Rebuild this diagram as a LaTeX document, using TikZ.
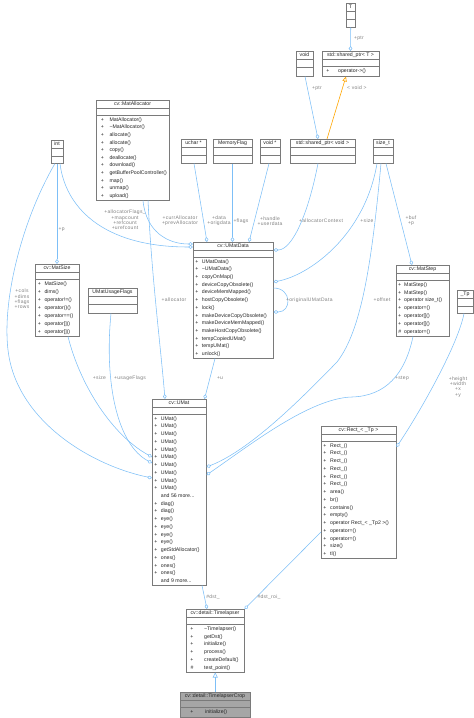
\documentclass[tikz,border=0pt]{standalone}
\usepackage{fontspec}
\setmainfont{Liberation Sans}
\newfontfamily\labfont[LetterSpace=6]{Liberation Sans}
\usetikzlibrary{arrows.meta}
\definecolor{edgeblue}{HTML}{7DBFF7}
\definecolor{boxgrey}{HTML}{7A7A7A}
\definecolor{labgrey}{HTML}{808080}
\definecolor{tmplorange}{HTML}{FFA500}
\definecolor{cropfill}{HTML}{A6A6A6}

\newcommand{\typebox}[6]{%
  \node[cls, minimum width={#4-#2}, minimum height={#5-#3}, anchor=north west] (#1) at (#2,#3) {};
  \node[ttl] at ({(#2+#4)/2},#3+4.2) {#6};
  \draw[sep] (#2,#3+8) -- (#4,#3+8);
  \draw[sep] (#2,#3+16) -- (#4,#3+16);
}
\newcommand{\classbox}[9]{%
  \node[cls, minimum width={#4-#2}, minimum height={#5-#3}, anchor=north west] (#1) at (#2,#3) {};
  \node[ttl] at ({(#2+#4)/2},#3+4.4) {#8};
  \draw[sep] (#2,#3+8.5) -- (#4,#3+8.5);
  \draw[sep] (#2,#3+15.5) -- (#4,#3+15.5);
  \foreach \v/\t [count=\n] in {#9} {\xdef\nmem{\n}}
  \pgfmathsetmacro\mstep{(#5-#3-16)/\nmem}
  \foreach \v/\t [count=\i] in {#9} {
    \pgfmathsetmacro\my{#3+16+(\i-0.5)*\mstep}
    \node[mem, anchor=center] at (#2+#6,\my) {\v};
    \node[mem] at (#2+#7,\my) {\t};
  }
}

\begin{document}
\begin{tikzpicture}[x=1pt,y=-1pt,
  cls/.style={draw=boxgrey, line width=0.5pt, inner sep=0pt, rectangle},
  sep/.style={draw=boxgrey, line width=0.5pt},
  ttl/.style={font=\fontsize{5.2}{6}\selectfont, text=black!85, inner sep=0pt, text height=3.8pt, text depth=1.1pt},
  mem/.style={font=\fontsize{5.2}{6}\selectfont, text=black!85, inner sep=0pt, anchor=west, text height=3.8pt, text depth=1.1pt},
  uses/.style={draw=edgeblue, line width=0.55pt, -{Diamond[open,length=5pt,width=3.6pt]}},
  inh/.style={draw=edgeblue, line width=0.55pt, -{Triangle[open,length=5pt,width=5pt]}},
  tmpl/.style={draw=tmplorange, line width=0.6pt, -{Triangle[open,length=5pt,width=4.5pt]}},
  lab/.style={font=\labfont\fontsize{5}{5.2}\selectfont, text=labgrey, align=center, inner sep=0pt}
]
\useasboundingbox (0,0) rectangle (474,718);

% ---------- simple type boxes ----------
\typebox{tT}{346}{3}{355}{27}{T}
\typebox{tvoid}{296}{51}{313}{76}{void}
\typebox{tint}{51}{140}{63}{163}{int}
\typebox{tuchar}{181}{139}{206}{163}{uchar *}
\typebox{tmemflag}{213}{139}{252}{163}{MemoryFlag}
\typebox{tvoidp}{260}{139}{280}{163}{void *}
\typebox{tsptrvoid}{290}{139}{355}{163}{std::shared\_ptr< void >}
\typebox{tsizet}{373}{139}{393}{163}{size\_t}
\typebox{tusage}{88}{288}{137}{313}{UMatUsageFlags}
\typebox{ttp}{457}{290}{473}{313}{\_Tp}

% ---------- class boxes ----------
\classbox{csptrT}{322}{51}{379}{76}{6}{16}{std::shared\_ptr< T >}{+/{operator->()}}
\classbox{cmatalloc}{96}{100}{169}{200}{6.5}{13.3}{cv::MatAllocator}{+/{MatAllocator()},+/{\textasciitilde MatAllocator()},+/{allocate()},+/{allocate()},+/{copy()},+/{deallocate()},+/{download()},+/{getBufferPoolController()},+/{map()},+/{unmap()},+/{upload()}}
\classbox{cumd}{193}{242}{273}{358}{4}{8.7}{cv::UMatData}{+/{UMatData()},+/{\textasciitilde UMatData()},+/{copyOnMap()},+/{deviceCopyObsolete()},+/{deviceMemMapped()},+/{hostCopyObsolete()},+/{lock()},+/{makeDeviceCopyObsolete()},+/{makeDeviceMemMapped()},+/{makeHostCopyObsolete()},+/{tempCopiedUMat()},+/{tempUMat()},+/{unlock()}}
\classbox{cmatsize}{35}{264}{79}{336}{4.5}{9.3}{cv::MatSize}{+/{MatSize()},+/{dims()},+/{operator!=()},+/{operator()()},+/{operator==()},+/{operator[]()},+/{operator[]()}}
\classbox{cmatstep}{396}{265}{449}{336}{3.7}{8}{cv::MatStep}{+/{MatStep()},+/{MatStep()},+/{operator size\_t()},+/{operator=()},+/{operator[]()},+/{operator[]()},\#/{operator=()}}
\classbox{cumat}{152}{399}{206}{585}{4}{8.7}{cv::UMat}{+/{UMat()},+/{UMat()},+/{UMat()},+/{UMat()},+/{UMat()},+/{UMat()},+/{UMat()},+/{UMat()},+/{UMat()},+/{UMat()},{}/{and 56 more...},+/{diag()},+/{diag()},+/{eye()},+/{eye()},+/{eye()},+/{eye()},+/{getStdAllocator()},+/{ones()},+/{ones()},+/{ones()},{}/{and 9 more...}}
\classbox{crect}{321}{426}{396}{558}{4}{9}{cv::Rect\_< \_Tp >}{+/{Rect\_()},+/{Rect\_()},+/{Rect\_()},+/{Rect\_()},+/{Rect\_()},+/{Rect\_()},+/{area()},+/{br()},+/{contains()},+/{empty()},+/{operator Rect\_< \_Tp2 >()},+/{operator=()},+/{operator=()},+/{size()},+/{tl()}}
\classbox{ctl}{186}{609}{244}{672}{6}{18}{cv::detail::Timelapser}{+/{\textasciitilde Timelapser()},+/{getDst()},+/{initialize()},+/{process()},+/{createDefault()},\#/{test\_point()}}
\fill[cropfill] (180,692) rectangle (250,717);
\classbox{ccrop}{180}{692}{250}{717}{12}{25}{cv::detail::TimelapserCrop}{+/{initialize()}}

% ---------- connectors ----------
\draw[uses] (tT.south) -- ([xshift=28.5pt]csptrT.north west);
\node[lab, anchor=west] (lptrT) at (354,38) {+ptr};

\draw[uses] ([xshift=9pt]tvoid.south west) -- ([xshift=28pt]tsptrvoid.north west);
\node[lab, anchor=west] (lptrV) at (312,88) {+ptr};

\draw[tmpl] ([xshift=37pt]tsptrvoid.north west) -- ([xshift=24pt]csptrT.south west);
\node[lab, anchor=west] (ltmpl) at (347,88) {< void >};

\draw[uses] ([xshift=9pt]tint.south west) .. controls (65,205) and (100,247) .. ([yshift=-5pt]cumd.north west);
\node[lab] (lalloc) at (125,220) {+allocatorFlags\_\\+mapcount\\+refcount\\+urefcount};

\draw[uses] ([xshift=47pt]cmatalloc.south west) .. controls (146,232) and (168,244) .. ([yshift=-2pt]cumd.north west);
\node[lab] (lcurr) at (180,221) {+currAllocator\\+prevAllocator};

\draw[uses] ([xshift=13pt]tuchar.south west) -- ([xshift=14pt]cumd.north west);
\node[lab] (ldata) at (219,221) {+data\\+origdata};

\draw[uses] ([xshift=19.5pt]tmemflag.south west) -- ([xshift=39.5pt]cumd.north west);
\node[lab] (lflags) at (241,221) {+flags};

\draw[uses] ([xshift=9pt]tvoidp.south west) -- ([xshift=56pt]cumd.north west);
\node[lab] (lhandle) at (270,221) {+handle\\+userdata};

\draw[uses] ([xshift=28pt]tsptrvoid.south west) .. controls (308,215) and (292,250) .. ([yshift=-8pt]cumd.north east);
\node[lab] (lctx) at (321,221) {+allocatorContext};

\draw[uses] ([xshift=4pt]tsizet.south west) .. controls (365,235) and (310,275) .. ([yshift=-40pt]cumd.north east);
\node[lab] (lsize1) at (367,221) {+size};

\draw[uses] ([yshift=-46pt]cumd.north east) .. controls (292,288) and (292,312) .. ([yshift=-70pt]cumd.north east);
\node[lab, anchor=west] (lorig) at (286,300) {+originalUMatData};

\draw[uses] ([xshift=13pt]tsizet.south west) -- ([xshift=16pt]cmatstep.north west);
\node[lab] (lbuf) at (411,221) {+buf\\+p};

\draw[uses] ([xshift=8pt]tsizet.south west) .. controls (372,260) and (362,330) .. (337,362) .. controls (300,400) and (250,450) .. ([yshift=-68pt]cumat.north east);
\node[lab] (loffset) at (382,300) {+offset};

\draw[uses] ([xshift=17pt]cmatstep.south west) .. controls (405,375) and (385,396) .. (352,397) .. controls (310,398) and (250,445) .. ([yshift=-76pt]cumat.north east);
\node[lab] (lstep) at (402,378) {+step};

\draw[uses] ([xshift=7pt]ttp.south west) .. controls (458,345) and (420,412) .. ([yshift=-21pt]crect.north east);
\node[lab] (lhw) at (458,387) {+height\\+width\\+x\\+y};

\draw[uses] ([xshift=6pt]tint.south west) -- ([xshift=22pt]cmatsize.north west);
\node[lab, anchor=west] (lp) at (58.5,230) {+p};

\draw[uses] ([xshift=4pt]tint.south west) .. controls (22,220) and (2,300) .. (8,350) .. controls (16,420) and (90,465) .. ([yshift=-79pt]cumat.north west);
\node[lab] (lcols) at (22,299) {+cols\\+dims\\+flags\\+rows};

\draw[uses] ([xshift=33pt]cmatsize.south west) .. controls (80,385) and (112,435) .. ([yshift=-58pt]cumat.north west);
\node[lab] (lsize2) at (99.5,378) {+size};

\draw[uses] ([xshift=23pt]tusage.south west) .. controls (104,385) and (118,445) .. ([yshift=-64pt]cumat.north west);
\node[lab] (lusage) at (130,378) {+usageFlags};

\draw[uses] ([xshift=52pt]cmatalloc.south west) .. controls (152,280) and (160,340) .. ([xshift=13pt]cumat.north west);
\node[lab] (lallocator) at (174,300) {+allocator};

\draw[uses] ([xshift=22pt]cumd.south west) -- ([xshift=-2pt]cumat.north east);
\node[lab] (lu) at (220,378) {+u};

\draw[uses] ([xshift=50pt]cumat.south west) -- ([xshift=21pt]ctl.north west);
\node[lab] (ldst) at (213,597) {\#dst\_};

\draw[uses] ([yshift=-106pt]crect.north west) -- (ctl.north east);
\node[lab] (ldstroi) at (269,597) {\#dst\_roi\_};

\draw[inh] (ccrop.north) -- (ctl.south);
\end{tikzpicture}
\end{document}
